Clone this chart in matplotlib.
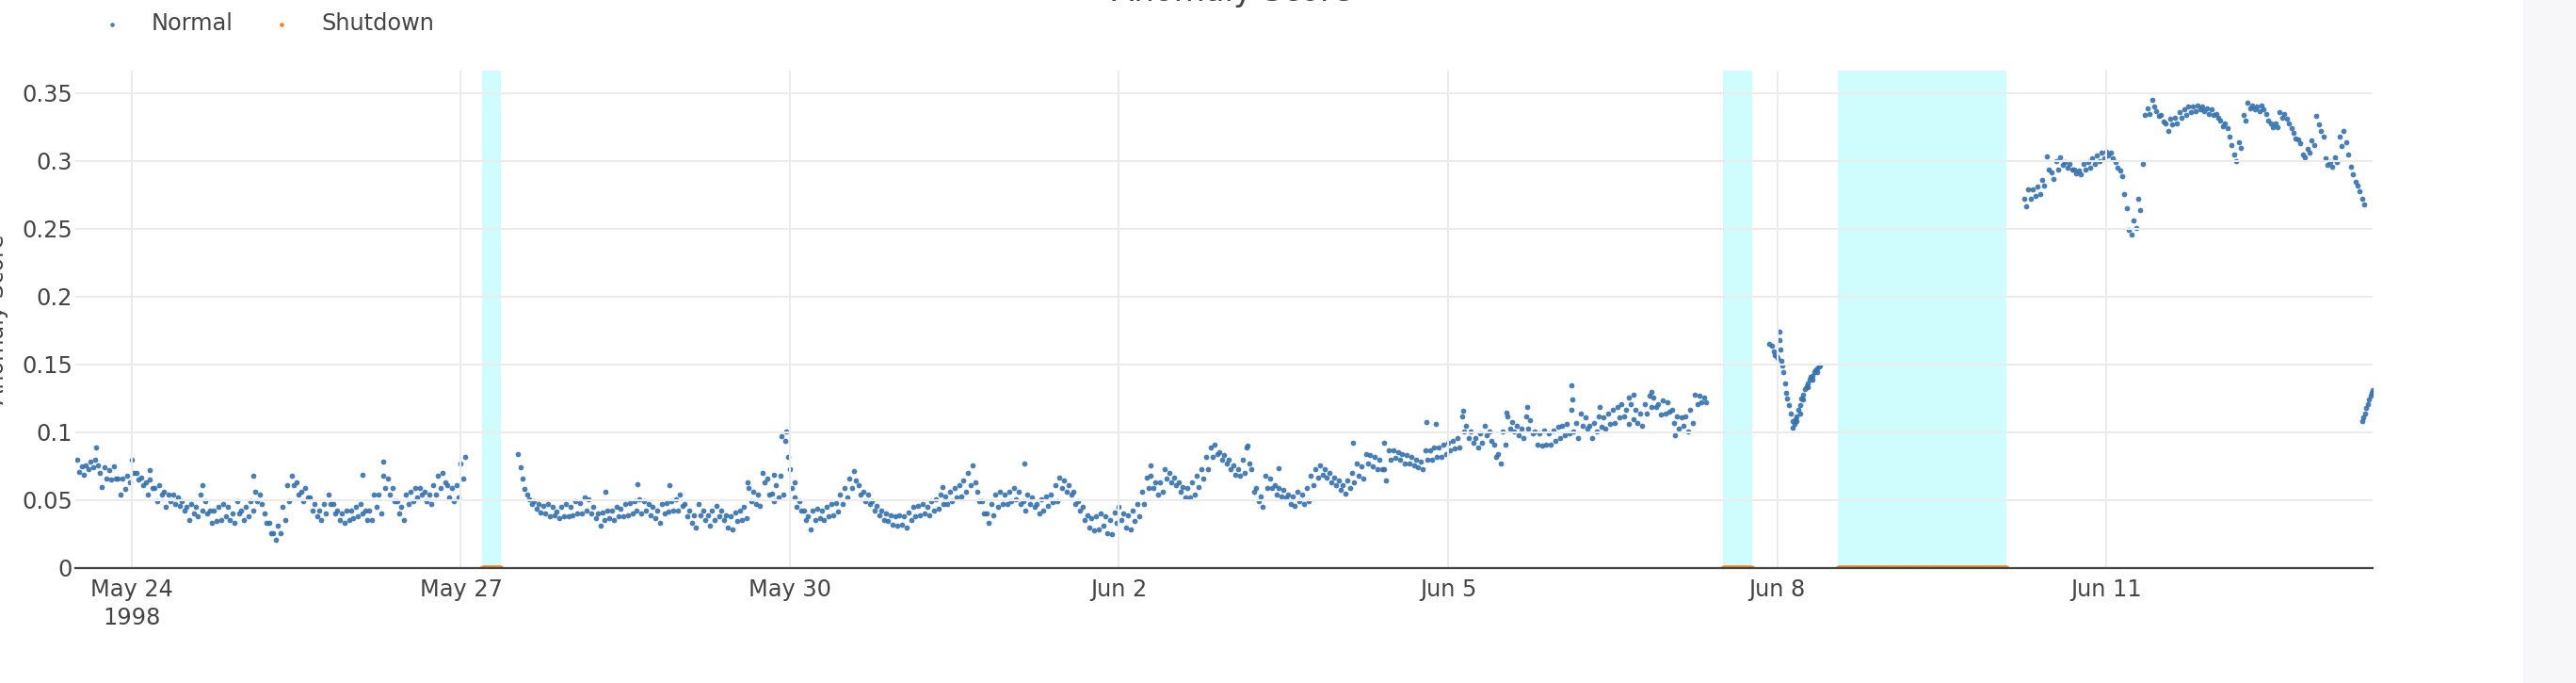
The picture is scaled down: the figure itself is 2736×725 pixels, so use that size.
import matplotlib
matplotlib.use('Agg')
import matplotlib.pyplot as plt
from matplotlib.patches import Rectangle
from matplotlib.ticker import FuncFormatter
import numpy as np
import pandas as pd

plt.rcParams.update({'font.family': 'DejaVu Sans', 'font.size': 17.28,
                     'text.color': '#444444', 'xtick.color': '#444444',
                     'ytick.color': '#444444'})

# time axis in hours from 1998-05-24 00:00
t0 = pd.Timestamp('1998-05-24 00:00')

# normal operation, segment A: start -12 h, every 0.5 h
seg_a_start = -12.0
seg_a = [0.080, 0.071, 0.075, 0.069, 0.076, 0.073, 0.0785, 0.074, 0.080, 0.076,
         0.070, 0.060, 0.074, 0.066, 0.072, 0.065, 0.075, 0.066, 0.066, 0.054,
         0.066, 0.058, 0.068, 0.0635, 0.080, 0.070, 0.070, 0.065, 0.067, 0.061,
         0.0635, 0.054, 0.065, 0.059, 0.059, 0.0495, 0.061, 0.054, 0.0565, 0.045,
         0.054, 0.0495, 0.054, 0.047, 0.052, 0.046, 0.0495, 0.0426, 0.045, 0.0356,
         0.047, 0.040, 0.045, 0.038, 0.054, 0.0426, 0.0495, 0.040, 0.0426, 0.033,
         0.0426, 0.0345, 0.045, 0.0356, 0.047, 0.038, 0.045, 0.0356, 0.040, 0.033,
         0.0495, 0.040, 0.0426, 0.0356, 0.045, 0.038, 0.0495, 0.0426, 0.0565, 0.0495,
         0.054, 0.047, 0.040, 0.033, 0.033, 0.026, 0.026, 0.0205, 0.031, 0.026,
         0.045, 0.0356, 0.061, 0.0495, 0.068, 0.061, 0.0635, 0.054, 0.0565, 0.0495,
         0.059, 0.052, 0.052, 0.0426, 0.047, 0.038, 0.0426, 0.0356, 0.047, 0.040,
         0.054, 0.047, 0.047, 0.040, 0.0426, 0.0356, 0.040, 0.033, 0.0426, 0.0356,
         0.0426, 0.037, 0.045, 0.038, 0.047, 0.040, 0.0426, 0.0356, 0.0426, 0.0356,
         0.054, 0.045, 0.054, 0.040, 0.068, 0.059, 0.066, 0.054, 0.059, 0.0495,
         0.0495, 0.040, 0.045, 0.0356, 0.054, 0.047, 0.0565, 0.0495, 0.059, 0.052,
         0.059, 0.054, 0.0565, 0.0495, 0.054, 0.047, 0.061, 0.054, 0.068, 0.059,
         0.070, 0.0635, 0.061, 0.052, 0.059, 0.0495, 0.061, 0.052, 0.0774, 0.066,
         0.082]

# segment B: start 84.5 h, every 0.5 h
seg_b_start = 84.5
seg_b = [0.084, 0.074, 0.066, 0.058, 0.054, 0.051, 0.047, 0.049, 0.044, 0.047,
         0.041, 0.046, 0.040, 0.047, 0.038, 0.045, 0.039, 0.042, 0.037, 0.045,
         0.038,
         0.047, 0.038, 0.045, 0.039, 0.0495, 0.040, 0.048, 0.040, 0.052, 0.0426,
         0.051, 0.040, 0.045, 0.037, 0.040, 0.031, 0.041, 0.0356, 0.0426, 0.037,
         0.0426, 0.0356, 0.045, 0.038, 0.044, 0.038, 0.047, 0.039, 0.048, 0.040,
         0.0495, 0.0426, 0.051, 0.040, 0.0495, 0.0426, 0.047, 0.039, 0.045, 0.037,
         0.0426, 0.033, 0.047, 0.040, 0.048, 0.0415, 0.0495, 0.0426, 0.051, 0.0426,
         0.054, 0.046, 0.047, 0.038, 0.0426, 0.033, 0.039, 0.030, 0.047, 0.039,
         0.0426, 0.0356, 0.039, 0.031, 0.0426, 0.0356, 0.046, 0.038, 0.0426, 0.0356,
         0.039, 0.030, 0.038, 0.0287, 0.041, 0.0345, 0.0426, 0.0356, 0.045, 0.037,
         0.059, 0.0495, 0.0565, 0.047, 0.054, 0.046, 0.070, 0.0635, 0.066, 0.054,
         0.055, 0.0495, 0.061, 0.052, 0.068, 0.054, 0.0935, 0.082, 0.0727, 0.059,
         0.052, 0.045, 0.0495, 0.0426, 0.0426, 0.0356, 0.038, 0.0287, 0.0426, 0.0356,
         0.044, 0.037, 0.0426, 0.0356, 0.045, 0.038, 0.047, 0.039, 0.048, 0.0415,
         0.054, 0.047, 0.059, 0.052, 0.066, 0.059, 0.0716, 0.0646, 0.061, 0.054,
         0.0565, 0.0495, 0.054, 0.047, 0.0495, 0.0426, 0.046, 0.039, 0.0426, 0.0356,
         0.040, 0.0345, 0.039, 0.032, 0.038, 0.031, 0.039, 0.032, 0.038, 0.030,
         0.041, 0.0356, 0.045, 0.038, 0.046, 0.039, 0.047, 0.040, 0.045, 0.039,
         0.0495, 0.0426, 0.051, 0.044, 0.054, 0.047, 0.053, 0.047, 0.0565, 0.0495,
         0.059, 0.052, 0.061, 0.053, 0.0646, 0.0565, 0.070, 0.061, 0.0755, 0.0635,
         0.0565, 0.0495, 0.0495, 0.040, 0.040, 0.033, 0.047, 0.039, 0.054, 0.045,
         0.0565, 0.047, 0.054, 0.047, 0.0565, 0.0495, 0.059, 0.051, 0.0565, 0.047,
         0.0495, 0.0426, 0.054, 0.047, 0.052, 0.045, 0.047, 0.040, 0.051, 0.0426,
         0.053, 0.046, 0.054, 0.0485,
         0.061, 0.0495, 0.067, 0.059, 0.0646, 0.0565, 0.061, 0.054, 0.0565, 0.047,
         0.0495, 0.0426, 0.045, 0.0356, 0.039, 0.030, 0.0368, 0.0275, 0.038, 0.0287,
         0.040, 0.031, 0.038, 0.026, 0.0356, 0.025, 0.041, 0.033, 0.045, 0.0356,
         0.040, 0.030, 0.039, 0.0287, 0.0426, 0.0345, 0.047, 0.038, 0.0565, 0.047,
         0.067, 0.059, 0.068, 0.059, 0.0635, 0.054, 0.0635, 0.0565, 0.0727, 0.066,
         0.070, 0.0635, 0.067, 0.061, 0.0635, 0.0565, 0.060, 0.052, 0.059, 0.052,
         0.0635, 0.054, 0.068, 0.060, 0.0727, 0.066, 0.082, 0.0727, 0.089, 0.082,
         0.091, 0.084, 0.0855, 0.080, 0.083, 0.0774, 0.0797, 0.0727, 0.076, 0.069,
         0.0727, 0.068, 0.0797, 0.070, 0.089, 0.0774, 0.0727, 0.0565, 0.059, 0.0495,
         0.053, 0.045, 0.068, 0.059, 0.066, 0.059, 0.061, 0.054, 0.059, 0.053,
         0.0576, 0.052, 0.054, 0.047, 0.053, 0.046, 0.0565, 0.0495, 0.054, 0.047,
         0.059, 0.0495, 0.068, 0.061, 0.0727, 0.067, 0.076, 0.069, 0.0727, 0.067,
         0.070, 0.0635, 0.067, 0.061, 0.0646, 0.0577, 0.061, 0.055, 0.0646, 0.059,
         0.070, 0.0635, 0.0774, 0.068, 0.075, 0.066, 0.084, 0.0774, 0.083, 0.075,
         0.082, 0.0727, 0.0797, 0.0727, 0.0727, 0.0646, 0.0867, 0.080, 0.0867, 0.081,
         0.0855, 0.080, 0.084, 0.0774, 0.083, 0.0774, 0.082, 0.076, 0.0797, 0.074,
         0.0785, 0.0727, 0.0867, 0.080, 0.0867, 0.080, 0.089, 0.082, 0.089, 0.082,
         0.091, 0.0843, 0.0925, 0.0867, 0.0936, 0.088, 0.096, 0.089, 0.112, 0.1005,
         0.105, 0.096, 0.1005, 0.0925, 0.096, 0.089, 0.0995, 0.0925, 0.105, 0.098,
         0.1005, 0.0936, 0.091, 0.082, 0.084, 0.0774, 0.1005, 0.091, 0.112, 0.103,
         0.1075, 0.1005, 0.105, 0.098, 0.103, 0.096, 0.112, 0.103, 0.109, 0.0995,
         0.1005, 0.091, 0.0995, 0.090,
         0.1016, 0.091, 0.099, 0.091, 0.1016, 0.0935, 0.104, 0.096, 0.105, 0.098,
         0.106, 0.099, 0.1167, 0.1005, 0.107, 0.096, 0.114, 0.105, 0.111, 0.103,
         0.105, 0.096, 0.107, 0.1005, 0.112, 0.104, 0.111, 0.103, 0.114, 0.106,
         0.117, 0.107, 0.119, 0.111, 0.121, 0.112, 0.117, 0.106, 0.121, 0.110,
         0.117, 0.107, 0.114, 0.105, 0.121, 0.114, 0.127, 0.119, 0.126, 0.119,
         0.121, 0.113, 0.1237, 0.114, 0.1225, 0.1155, 0.117, 0.107, 0.112, 0.103,
         0.111, 0.105, 0.112, 0.1005, 0.117, 0.107, 0.128, 0.121, 0.127, 0.1225,
         0.126, 0.1225]

# segment C (short dip after the second shutdown)
seg_c_hours = [358.3, 358.8, 359.2, 359.5, 359.8, 360.2, 360.5, 360.6, 360.7, 360.9,
               361.2, 361.4, 361.8, 362.0, 362.2, 362.6, 362.9, 363.3, 363.5, 363.8,
               364.0, 364.3, 364.3, 364.6, 365.0, 365.0, 365.3, 365.7, 365.7, 366.0,
               366.4, 366.7, 366.7, 367.1, 367.4, 367.7, 367.7, 368.1, 368.4, 368.8,
               368.8, 369.1, 369.3]
seg_c = [0.165, 0.164, 0.160, 0.157, 0.156, 0.155, 0.174, 0.168, 0.161, 0.153,
         0.149, 0.1445, 0.136, 0.1295, 0.125, 0.120, 0.114, 0.1086, 0.1032, 0.106,
         0.1097, 0.112, 0.1086, 0.1167, 0.120, 0.114, 0.125, 0.128, 0.124, 0.132,
         0.134, 0.136, 0.133, 0.139, 0.141, 0.142, 0.139, 0.1445, 0.1457, 0.147,
         0.1445, 0.1485, 0.149]

# segment D: start 414 h, every 0.5 h
seg_d_start = 414.0
seg_d = [0.272, 0.267, 0.279, 0.272, 0.279, 0.274, 0.281, 0.276, 0.286, 0.282,
         0.3034, 0.294, 0.292, 0.287, 0.300, 0.294, 0.303, 0.297, 0.299, 0.295,
         0.298, 0.294, 0.294, 0.291, 0.293, 0.290, 0.298, 0.294, 0.299, 0.295,
         0.302, 0.298, 0.304, 0.300, 0.306, 0.302, 0.307, 0.304, 0.306, 0.302,
         0.299, 0.295, 0.293, 0.289, 0.276, 0.265, 0.249, 0.246, 0.256, 0.251,
         0.272, 0.264, 0.298, 0.334, 0.339, 0.335, 0.345, 0.340, 0.337, 0.333,
         0.334, 0.329, 0.328, 0.322, 0.331, 0.327, 0.332, 0.328, 0.336, 0.332,
         0.338, 0.334, 0.340, 0.336, 0.340, 0.337, 0.341, 0.338, 0.340, 0.337,
         0.339, 0.335, 0.338, 0.334, 0.335, 0.332, 0.330, 0.326, 0.328, 0.324,
         0.318, 0.312, 0.305, 0.300, 0.314, 0.310, 0.334, 0.330, 0.343, 0.339,
         0.341, 0.338, 0.340, 0.337, 0.341, 0.338, 0.335, 0.330, 0.328, 0.325,
         0.328, 0.325, 0.336, 0.332, 0.335, 0.331, 0.328, 0.324, 0.321, 0.317,
         0.316, 0.313, 0.305, 0.3025, 0.309, 0.306, 0.315, 0.312, 0.333, 0.327,
         0.322, 0.318, 0.302, 0.297, 0.299, 0.296, 0.303, 0.299, 0.318, 0.311,
         0.322, 0.314, 0.305, 0.296, 0.290, 0.285, 0.282, 0.278, 0.272, 0.268]

# segment E: last points at the right edge
seg_e_hours = [488.0, 488.3, 488.6, 488.9, 489.2, 489.5, 489.8, 490.1, 490.4]
seg_e = [0.1085, 0.111, 0.114, 0.118, 0.121, 0.124, 0.127, 0.129, 0.131]

# isolated points above the band
extra_hours = [-7.8, 3.9, 15.5, 26.5, 50.4, 55.0, 103.7, 110.7, 117.6, 134.8,
               140.6, 142.2, 143.2, 145.0, 177.3, 195.3, 222.9, 244.1, 250.9, 267.1,
               274.0, 283.3, 285.4, 291.2, 300.8, 305.3, 315.0, 315.2, 321.2, 327.6,
               328.5, 332.4, 337.7]
extra_scores = [0.089, 0.072, 0.061, 0.068, 0.069, 0.0785, 0.0565, 0.0616, 0.061, 0.063,
                0.069, 0.097, 0.1005, 0.0635, 0.060, 0.077, 0.076, 0.090, 0.0738, 0.0923,
                0.0923, 0.1075, 0.106, 0.1157, 0.1145, 0.119, 0.135, 0.124, 0.119, 0.126,
                0.128, 0.130, 0.098]

# shutdown periods (hours from t0)
shutdown_start = [76.7, 348.2, 373.3]
shutdown_end = [80.76, 354.5, 410.2]

tick_dates = ['1998-05-24', '1998-05-27', '1998-05-30', '1998-06-02',
              '1998-06-05', '1998-06-08', '1998-06-11']
tick_labels = ['May 24\n1998', 'May 27', 'May 30', 'Jun 2', 'Jun 5', 'Jun 8', 'Jun 11']


def to_time(hours):
    return (t0 + pd.to_timedelta(np.asarray(hours, dtype=float), unit='h')).to_numpy()


def regular(start, values, step=0.5):
    return [start + step * i for i in range(len(values))]


normal_hours = (regular(seg_a_start, seg_a) + regular(seg_b_start, seg_b)
                + seg_c_hours + regular(seg_d_start, seg_d) + seg_e_hours + extra_hours)
normal_scores = seg_a + seg_b + seg_c + seg_d + seg_e + extra_scores

shut_hours = []
for s, e in zip(shutdown_start, shutdown_end):
    shut_hours += list(np.arange(s, e + 0.01, 0.1))
shut_scores = [0.0] * len(shut_hours)

W, H = 2736, 725
fig = plt.figure(figsize=(W / 100, H / 100), dpi=100)
left, right, top, bottom = 80, 2520, 75, 603
ax = fig.add_axes([left / W, 1 - bottom / H, (right - left) / W, (bottom - top) / H])

for s, e in zip(shutdown_start, shutdown_end):
    ax.axvspan(to_time([s])[0], to_time([e])[0], color='#cffcfc', lw=0, zorder=0.5)

ax.scatter(to_time(normal_hours), normal_scores, s=17, color='#3471ad', linewidths=0,
           alpha=0.9, zorder=2, label='Normal')
ax.scatter(to_time(shut_hours), shut_scores, s=17, color='#ff7f0e', linewidths=0,
           zorder=2, label='Shutdown')

ax.set_xlim(to_time([-12.36])[0], to_time([490.3])[0])
ax.set_ylim(0, (bottom - top) / 1440)
ax.set_xticks(pd.to_datetime(tick_dates).to_numpy())
ax.set_xticklabels(tick_labels, linespacing=1.3)
ax.set_yticks(np.arange(0, 0.36, 0.05))
ax.yaxis.set_major_formatter(FuncFormatter(lambda v, p: '%g' % round(v, 2)))
ax.tick_params(axis='both', length=0)
ax.tick_params(axis='x', pad=8)
ax.tick_params(axis='y', pad=2)
ax.grid(True, color='#ebebeb', lw=1.5, zorder=1)
ax.set_axisbelow(False)
for g in ax.get_xgridlines() + ax.get_ygridlines():
    g.set_zorder(1)
for sp in ['top', 'right', 'left']:
    ax.spines[sp].set_visible(False)
ax.spines['bottom'].set_color('#444444')
ax.spines['bottom'].set_linewidth(1.6)
ax.spines['bottom'].set_zorder(3)

leg = ax.legend(loc='center left', bbox_to_anchor=(94.6 / W, 1 - 25 / H),
                bbox_transform=fig.transFigure, ncol=2, frameon=False,
                borderpad=0, borderaxespad=0, handlelength=2.0,
                handletextpad=0.75, columnspacing=1.15, markerscale=0.8)

# title sits mostly above the visible area, as in the source screenshot
fig.text(1309 / W, 1 - 1.5 / H, 'Anomaly Score', ha='center', va='baseline',
         fontsize=24.5)
fig.text(4.5 / W, 1 - 339 / H, 'Anomaly Score', rotation=90, rotation_mode='anchor',
         ha='center', va='baseline', fontsize=17.28)

fig.patches.append(Rectangle((2680 / W, 0), 56 / W, 1, transform=fig.transFigure,
                             color='#f7f7f9', lw=0, zorder=0))

fig.savefig('out.png', dpi=100)
